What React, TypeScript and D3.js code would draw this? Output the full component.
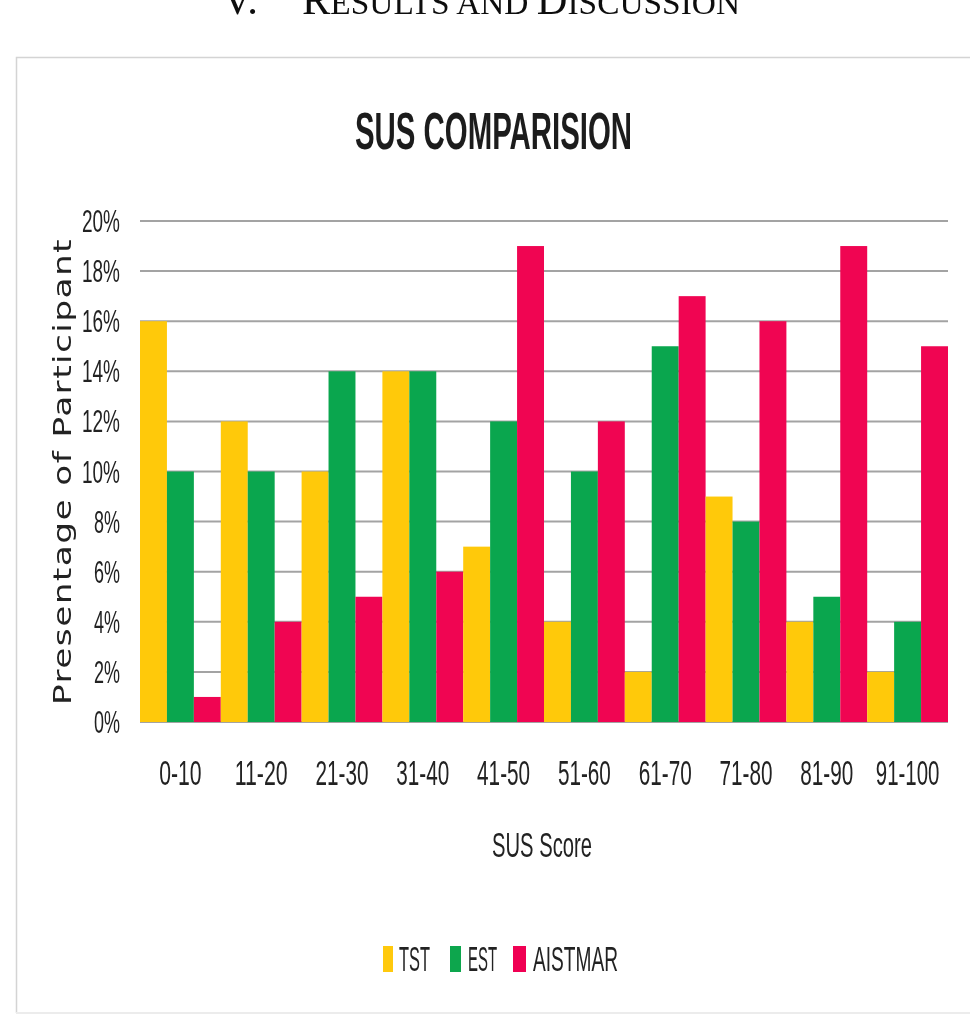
import * as d3 from "d3";

const categories = ["0-10", "11-20", "21-30", "31-40", "41-50", "51-60", "61-70", "71-80", "81-90", "91-100"];
const seriesNames = ["TST", "EST", "AISTMAR"];
const tst = [16, 12, 10, 14, 7, 4, 2, 9, 4, 2];
const est = [10, 10, 14, 14, 12, 10, 15, 8, 5, 4];
const aistmar = [1, 4, 5, 6, 19, 12, 17, 16, 19, 15];
const yTicks = [0, 2, 4, 6, 8, 10, 12, 14, 16, 18, 20];

const colors = ["#ffc90a", "#0aa64e", "#f00552"];
const font = "'Liberation Sans', Arial, sans-serif";
const W = 970;
const H = 1015;

export default function App() {
  const x0 = d3.scaleBand<string>().domain(categories).range([140, 948]);
  const x1 = d3.scaleBand<string>().domain(seriesNames).range([0, x0.bandwidth()]);
  const y = d3.scaleLinear().domain([0, 20]).range([722, 221]);
  const series = [tst, est, aistmar];

  // legend swatch + label boxes, laid out left to right
  const legend = [
    { sx: 383, sw: 10, tx: 399, tw: 31 },
    { sx: 450, sw: 11, tx: 468, tw: 29 },
    { sx: 513, sw: 13, tx: 533, tw: 85 },
  ];

  return (
    <svg
      width={W}
      height={H}
      viewBox={`0 0 ${W} ${H}`}
      style={{ position: "absolute", left: 0, top: 0, background: "#fff" }}
    >
      <defs>
        <filter id="soft" x="-5%" y="-5%" width="110%" height="110%">
          <feGaussianBlur stdDeviation="0.7" />
        </filter>
      </defs>

      {/* Section heading, clipped by the page top */}
      <g fontFamily="'Liberation Serif', serif" fill="#111" filter="url(#soft)">
        <text x={222} y={14} fontSize={42} textLength={36} lengthAdjust="spacingAndGlyphs">V.</text>
        <text x={302} y={14} fontSize={42} textLength={438} lengthAdjust="spacingAndGlyphs">
          R<tspan fontSize={33}>ESULTS AND </tspan>D<tspan fontSize={33}>ISCUSSION</tspan>
        </text>
      </g>

      {/* Chart frame */}
      <path d="M16.5,1013 V57.5 H970" fill="none" stroke="#d4d4d4" strokeWidth={1.5} />
      <line x1={16} x2={970} y1={1013} y2={1013} stroke="#ececec" strokeWidth={2} />

      <text
        x={493.5}
        y={149}
        fontFamily={font}
        fontWeight={700}
        fontSize={52}
        fill="#1c1c1c"
        textAnchor="middle"
        textLength={277}
        lengthAdjust="spacingAndGlyphs"
        filter="url(#soft)"
      >
        SUS COMPARISION
      </text>

      {/* Gridlines */}
      {yTicks.map((t) => (
        <line key={t} x1={140} x2={948} y1={y(t)} y2={y(t)} stroke="#a3a3a3" strokeWidth={2} />
      ))}

      {/* Bars */}
      {categories.map((c, i) => (
        <g key={c} transform={`translate(${x0(c)},0)`}>
          {seriesNames.map((s, j) => (
            <rect
              key={s}
              x={x1(s)}
              y={y(series[j][i])}
              width={x1.bandwidth()}
              height={y(0) - y(series[j][i])}
              fill={colors[j]}
            />
          ))}
        </g>
      ))}

      <g fontFamily={font} fill="#222" filter="url(#soft)">
        {/* y ticks */}
        {yTicks.map((t) => (
          <text
            key={t}
            x={120}
            y={y(t) + 11}
            fontSize={31}
            textAnchor="end"
            textLength={t < 10 ? 26 : 38}
            lengthAdjust="spacingAndGlyphs"
          >
            {t}%
          </text>
        ))}

        {/* x ticks */}
        {categories.map((c) => (
          <text
            key={c}
            x={x0(c)! + x0.bandwidth() / 2}
            y={785}
            fontSize={35}
            textAnchor="middle"
            textLength={c.length * 10.6}
            lengthAdjust="spacingAndGlyphs"
          >
            {c}
          </text>
        ))}

        <text x={542} y={857} fontSize={35} textAnchor="middle" textLength={100} lengthAdjust="spacingAndGlyphs">
          SUS Score
        </text>

        <text
          transform="translate(71,705) rotate(-90)"
          fontFamily="'DejaVu Sans', sans-serif"
          fontSize={24}
          textLength={467}
          lengthAdjust="spacingAndGlyphs"
          letterSpacing={1}
        >
          Presentage of Participant
        </text>

        {/* Legend */}
        {seriesNames.map((s, i) => (
          <g key={s}>
            <rect x={legend[i].sx} y={946} width={legend[i].sw} height={26} fill={colors[i]} />
            <text x={legend[i].tx} y={971} fontSize={35} textLength={legend[i].tw} lengthAdjust="spacingAndGlyphs">
              {s}
            </text>
          </g>
        ))}
      </g>
    </svg>
  );
}
